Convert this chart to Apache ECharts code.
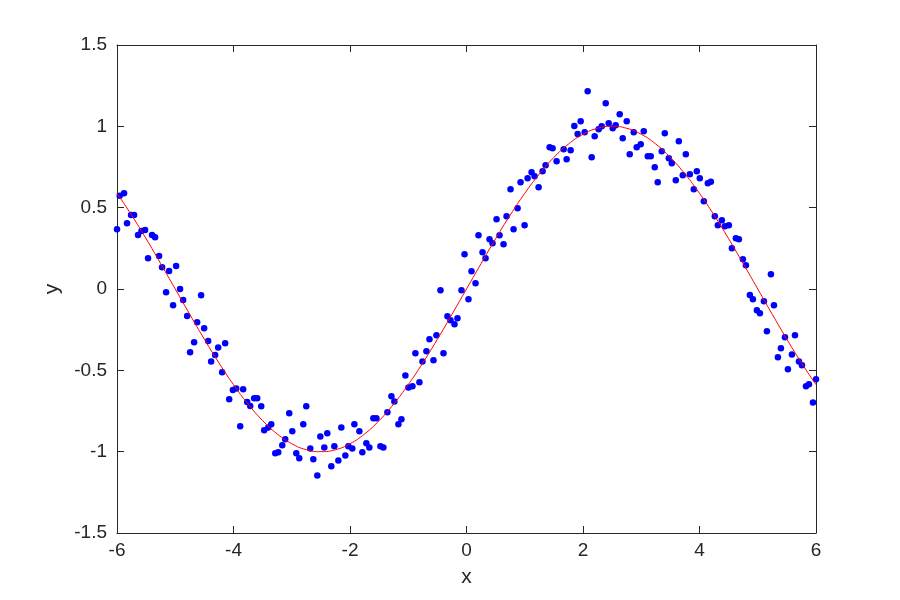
<!DOCTYPE html>
<html>
<head>
<meta charset="utf-8">
<script src="https://cdn.jsdelivr.net/npm/echarts@6/dist/echarts.min.js"></script>
<style>html,body{margin:0;padding:0;background:#fff;}#c{width:900px;height:600px;}</style>
</head>
<body>
<div id="c"></div>
<script>
// Scatter sample x positions and y values
const sampleX = [
-6.000,-5.953,-5.879,-5.828,-5.759,-5.707,-5.639,-5.580,-5.518,-5.467,-5.398,-5.346,-5.278,-5.226,-5.157,-5.106,-5.037,-4.985,-4.917,-4.865,
-4.796,-4.745,-4.676,-4.624,-4.556,-4.504,-4.435,-4.384,-4.315,-4.263,-4.195,-4.143,-4.074,-4.011,
-3.954,-3.885,-3.834,-3.765,-3.713,-3.645,-3.593,-3.524,-3.473,-3.404,-3.352,-3.283,-3.232,-3.163,-3.112,-3.043,-2.991,-2.922,-2.871,-2.802,
-2.751,-2.682,-2.630,-2.561,-2.510,-2.441,-2.390,-2.321,-2.269,-2.200,-2.149,-2.080,-2.028,-1.960,-1.925,
-1.839,-1.788,-1.719,-1.668,-1.599,-1.547,-1.478,-1.427,-1.358,-1.289,-1.238,-1.169,-1.117,-1.049,-0.997,-0.928,-0.877,-0.808,-0.756,-0.688,
-0.636,-0.567,-0.516,-0.447,-0.395,-0.327,-0.275,-0.206,-0.155,-0.086,-0.034,0.034,0.086,
0.155,0.206,0.275,0.327,0.395,0.447,0.516,0.567,0.636,0.688,0.756,0.808,0.877,0.928,0.997,1.049,1.117,1.169,1.238,1.306,1.358,1.427,1.478,
1.547,1.668,1.719,1.788,1.851,
1.908,1.960,2.029,2.080,2.149,2.200,2.269,2.321,2.390,2.441,2.510,2.561,2.630,2.682,2.751,2.802,2.871,2.922,2.991,3.043,3.112,3.163,3.232,
3.283,3.352,3.404,3.473,3.524,3.593,3.645,3.713,3.765,3.834,3.902,3.954,4.005,
4.074,4.143,4.195,4.263,4.315,4.384,4.435,4.504,4.556,4.624,4.676,4.745,4.796,4.865,4.917,4.985,5.037,5.106,5.157,5.226,5.278,5.346,5.398,
5.467,5.518,5.587,5.639,5.707,5.759,5.828,5.879,5.948,6.000
];
const sampleY = [
0.367,0.574,0.589,0.404,0.455,0.455,0.332,0.357,0.363,0.189,0.332,0.318,0.203,0.133,-0.020,0.111,-0.100,0.141,0.000,-0.068,
-0.166,-0.389,-0.328,-0.205,-0.039,-0.242,-0.320,-0.445,-0.406,-0.359,-0.512,-0.334,-0.678,-0.621,
-0.611,-0.844,-0.617,-0.695,-0.720,-0.672,-0.672,-0.721,-0.869,-0.851,-0.832,-1.010,-1.004,-0.961,-0.924,-0.764,-0.875,-1.010,-1.041,-0.832,
-0.721,-0.980,-1.047,-1.146,-0.906,-0.974,-0.887,-1.090,-0.967,-1.054,-0.851,-1.023,-0.967,-0.980,-0.832,
-0.875,-1.004,-0.949,-0.974,-0.795,-0.795,-0.967,-0.974,-0.758,-0.660,-0.691,-0.832,-0.801,-0.531,-0.605,-0.598,-0.395,-0.574,-0.445,-0.383,
-0.309,-0.438,-0.285,-0.008,-0.395,-0.168,-0.192,-0.217,-0.180,-0.008,0.213,-0.063,0.109,
0.035,0.330,0.226,0.189,0.306,0.281,0.429,0.330,0.275,0.447,0.613,0.367,0.496,0.656,0.392,0.681,0.718,0.693,0.625,0.724,0.761,0.871,0.865,
0.785,0.859,0.798,0.853,1.002,
0.953,1.031,0.964,1.216,0.810,0.939,0.982,1.001,1.142,1.019,0.988,1.007,1.074,0.927,1.031,0.828,0.964,0.871,0.890,0.970,0.816,0.816,0.748,
0.656,0.847,0.958,0.804,0.773,0.669,0.908,0.699,0.828,0.705,0.613,0.724,0.681,
0.539,0.650,0.660,0.447,0.392,0.423,0.386,0.392,0.250,0.312,0.306,0.183,0.146,-0.037,-0.063,-0.131,-0.149,-0.076,-0.260,0.090,-0.100,-0.420,-0.365,
-0.297,-0.494,-0.402,-0.285,-0.445,-0.469,-0.598,-0.586,-0.697,-0.555
];
// Fitted curve
const curveX = [-6,-5.75,-5.5,-5.25,-5,-4.75,-4.5,-4.25,-4,-3.75,-3.5,-3.25,-3,-2.75,-2.5,-2.25,-2,-1.75,-1.5,-1.25,-1,-0.75,-0.5,-0.25,0,
0.25,0.5,0.75,1,1.25,1.5,1.75,2,2.25,2.5,2.75,3,3.25,3.5,3.75,4,4.25,4.5,4.75,5,5.25,5.5,5.75,6];
const curveY = [0.588,0.454,0.309,0.156,0,-0.156,-0.309,-0.454,-0.588,-0.707,-0.809,-0.891,-0.951,-0.988,-1,-0.988,-0.951,-0.891,-0.809,-0.707,-0.588,-0.454,-0.309,-0.156,0,
0.156,0.309,0.454,0.588,0.707,0.809,0.891,0.951,0.988,1,0.988,0.951,0.891,0.809,0.707,0.588,0.454,0.309,0.156,0,-0.156,-0.309,-0.454,-0.588];
const xTicks = [-6,-4,-2,0,2,4,6];
const yTicks = [-1.5,-1,-0.5,0,0.5,1,1.5];

const scatterData = sampleX.map((x,i)=>[x, sampleY[i]]);
const curveData = curveX.map((x,i)=>[x, curveY[i]]);

const font = 'Liberation Sans, Arial, Helvetica, sans-serif';
const axisCol = '#262626';
const baseAxis = {
  axisLine:{show:true, onZero:false, lineStyle:{color:axisCol, width:1}},
  axisTick:{show:true, inside:true, length:7, lineStyle:{color:axisCol}},
  splitLine:{show:false}
};
const chart = echarts.init(document.getElementById('c'), null, {renderer:'canvas'});
chart.setOption({
  animation:false,
  backgroundColor:'#fff',
  grid:{left:117, right:84, top:45, bottom:67, containLabel:false},
  xAxis:[
    Object.assign({}, baseAxis, {type:'value', min:-6, max:6, interval:2, position:'bottom',
      name:'x', nameLocation:'middle', nameGap:34,
      nameTextStyle:{fontFamily:font, fontSize:21, color:axisCol},
      axisLabel:{fontFamily:font, fontSize:19, color:axisCol, margin:8,
        formatter:v=> xTicks.includes(v) ? String(v) : ''}}),
    Object.assign({}, baseAxis, {type:'value', min:-6, max:6, interval:2, position:'top', axisLabel:{show:false}})
  ],
  yAxis:[
    Object.assign({}, baseAxis, {type:'value', min:-1.5, max:1.5, interval:0.5, position:'left',
      name:'y', nameLocation:'middle', nameGap:54, nameRotate:90,
      nameTextStyle:{fontFamily:font, fontSize:21, color:axisCol},
      axisLabel:{fontFamily:font, fontSize:19, color:axisCol, margin:10,
        formatter:v=> yTicks.includes(v) ? String(v) : ''}}),
    Object.assign({}, baseAxis, {type:'value', min:-1.5, max:1.5, interval:0.5, position:'right', axisLabel:{show:false}})
  ],
  series:[
    {type:'scatter', data:scatterData, symbol:'circle', symbolSize:6.5,
      itemStyle:{color:'#0000ff', opacity:1}, z:2},
    {type:'line', data:curveData, smooth:true, showSymbol:false, symbol:'none',
      lineStyle:{color:'#ff0000', width:1}, z:3}
  ]
});
</script>
</body>
</html>
